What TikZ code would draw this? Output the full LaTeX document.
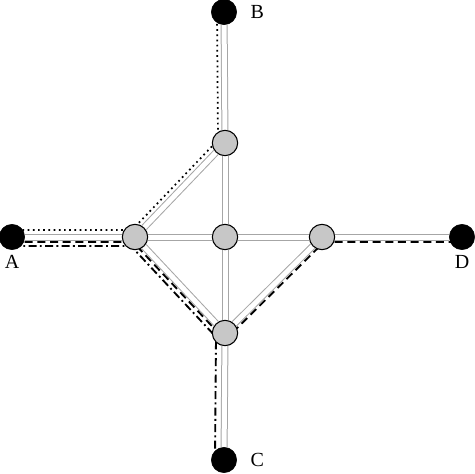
\documentclass[tikz,border=0pt]{standalone}
\usepackage{fontspec}
\setmainfont{Liberation Serif}
\usetikzlibrary{calc,positioning,backgrounds}

\begin{document}
\begin{tikzpicture}[x=0.75pt,y=-0.75pt,
  via/.style={draw=black!35,line width=0.75pt,double=white,double distance=3.75pt},
  extremo/.style={circle,fill=black,draw=black,minimum size=19pt,inner sep=0pt},
  cruce/.style={circle,fill=black!22,draw=black,line width=0.8pt,minimum size=19pt,inner sep=0pt},
  etiqueta/.style={font=\fontsize{15}{17}\selectfont,inner sep=1pt},
  ruta1/.style={line width=1.3pt,dash pattern=on 1.3pt off 2.6pt},
  ruta2/.style={line width=1.4pt,dash pattern=on 6pt off 3.5pt},
  ruta3/.style={line width=1.4pt,dash pattern=on 6pt off 2.5pt on 1.4pt off 2.5pt}
  ]
  \useasboundingbox (0,0) rectangle (474,474);

  \node[extremo] (A) at (12,237) {};
  \node[extremo] (B) at (224,12) {};
  \node[extremo] (C) at (224,460) {};
  \node[extremo] (D) at (462,237) {};
  \node[cruce] (L) at (135,237) {};
  \node[cruce] (T) at (225,143) {};
  \node[cruce] (M) at (225,237) {};
  \node[cruce] (R) at (322,237) {};
  \node[cruce] (Bt) at (225,333) {};

  \node[etiqueta,below=3pt of A] (labA) {A};
  \node[etiqueta,right=9pt of B] (labB) {B};
  \node[etiqueta,right=9pt of C] (labC) {C};
  \node[etiqueta,below=3pt of D] (labD) {D};

  \begin{pgfonlayer}{background}
    \foreach \i/\j in {A/L,L/M,M/R,R/D,B/T,T/M,M/Bt,Bt/C,L/T,L/Bt,Bt/R}
      \draw[via] (\i) -- (\j);

    % ruta A-B
    \draw[ruta1] ($(A)+(0,-7)$) -- ($(L)+(-3,-7)$) -- ($(T)+(-7,-3)$) -- ($(B)+(-7,0)$);
    % ruta A-D
    \draw[ruta2] ($(A)+(0,5)$) -- ($(L)+(-2,5)$) -- ($(Bt)+(0,7)$)
      -- ($(R)+(2,5)$) -- ($(D)+(0,5)$);
    % ruta A-C
    \draw[ruta3] ($(A)+(0,9)$) -- ($(L)+(-4,9)$) -- ($(Bt)+(-9,4)$) -- ($(C)+(-9,0)$);
  \end{pgfonlayer}

\end{tikzpicture}
\end{document}
